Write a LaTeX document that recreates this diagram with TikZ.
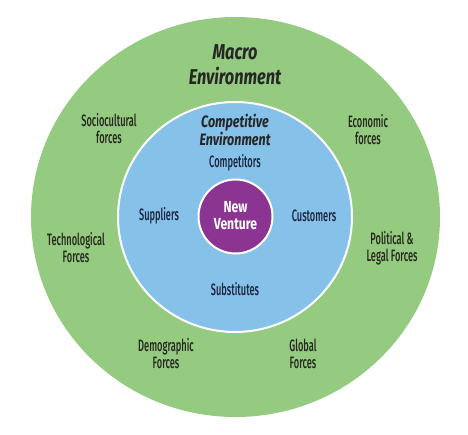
\documentclass[tikz,border=0pt]{standalone}
\usepackage{fontspec}
\setmainfont{Fira Sans}
\newfontfamily\labelfont{Fira Sans Medium}[FakeStretch=0.56]
\newfontfamily\titlefont{Fira Sans}[FakeStretch=0.76]
\usetikzlibrary{positioning}
\definecolor{macrogreen}{RGB}{148,203,128}
\definecolor{compblue}{RGB}{134,193,234}
\definecolor{venturepurple}{RGB}{140,52,145}
\definecolor{forcetext}{RGB}{38,40,30}
\definecolor{comptext}{RGB}{28,36,62}

\begin{document}
\begin{tikzpicture}[
    x=1pt, y=-1pt,
    ring/.style={draw=white, line width=2pt},
    force/.style={align=center, inner sep=0pt, text=forcetext, font=\labelfont\fontsize{16.5}{17}\selectfont},
    player/.style={align=center, inner sep=0pt, text=comptext, font=\labelfont\fontsize{16.5}{17}\selectfont},
    heading/.style={align=center, inner sep=0pt, text=black!85, font=\titlefont\bfseries\itshape}
]
  \useasboundingbox (0,0) rectangle (468,435);

  % three rings
  \fill[macrogreen] (235.5,217) ellipse [x radius=204.5, y radius=200];
  \filldraw[ring, fill=compblue] (235,217) ellipse [x radius=117, y radius=115];
  \filldraw[ring, fill=venturepurple] (235.5,216.5) circle [radius=37];

  % headings
  \node[heading, font=\titlefont\bfseries\itshape\fontsize{21.5}{25}\selectfont] (macro) at (235,64.5) {Macro\\Environment};
  \node[heading, font=\titlefont\bfseries\itshape\fontsize{16.5}{17}\selectfont] (competitive) at (235,129.5) {Competitive\\Environment};
  \node[heading, text=white, font=\titlefont\bfseries\fontsize{16}{17}\selectfont] (venture) at (235.5,215.5) {New\\Venture};

  % competitive environment
  \node[player] (competitors) at (235,163) {Competitors};
  \node[player] (suppliers) at (159,216) {Suppliers};
  \node[player] (customers) at (314,216) {Customers};
  \node[player] (substitutes) at (235,289) {Substitutes};

  % macro environment
  \node[force] (sociocultural) at (109,128.5) {Sociocultural\\forces};
  \node[force] (economic) at (368,129.5) {Economic\\forces};
  \node[force] (technological) at (76,248) {Technological\\Forces};
  \node[force] (political) at (392,248) {Political \&\\Legal Forces};
  \node[force] (demographic) at (166,353.5) {Demographic\\Forces};
  \node[force] (global) at (303,353.5) {Global\\Forces};
\end{tikzpicture}
\end{document}
